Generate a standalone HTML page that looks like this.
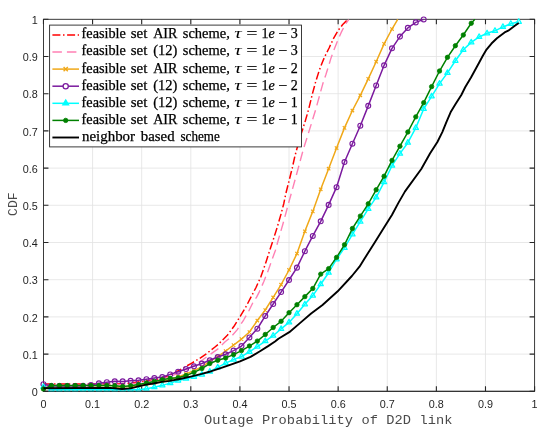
<!DOCTYPE html>
<html><head><meta charset="utf-8"><title>CDF of outage probability</title>
<style>html,body{margin:0;padding:0;background:#fff}body{width:550px;height:433px;overflow:hidden}svg{display:block}.tk{font-family:"Liberation Sans",sans-serif;font-size:10.8px;fill:#1f1f1f}.lg{font-family:"Liberation Serif",serif;font-size:14px;fill:#000;stroke:#000;stroke-width:0.25px}.ax{font-family:"Liberation Mono",monospace;font-size:13.7px;fill:#4a4a4a}</style></head><body>
<svg width="550" height="433" viewBox="0 0 550 433">
<rect width="550" height="433" fill="#fff"/>
<path d="M92.57 19.3 V391.3 M43.45 354.10 H534.6 M141.68 19.3 V391.3 M43.45 316.90 H534.6 M190.80 19.3 V391.3 M43.45 279.70 H534.6 M239.91 19.3 V391.3 M43.45 242.50 H534.6 M289.03 19.3 V391.3 M43.45 205.30 H534.6 M338.14 19.3 V391.3 M43.45 168.10 H534.6 M387.25 19.3 V391.3 M43.45 130.90 H534.6 M436.37 19.3 V391.3 M43.45 93.70 H534.6 M485.49 19.3 V391.3 M43.45 56.50 H534.6" stroke="#e2e2e2" stroke-width="0.8" fill="none"/>
<path d="M43.45 391.3 v-5 M43.45 19.3 v5 M43.45 391.30 h5 M534.6 391.30 h-5 M92.57 391.3 v-5 M92.57 19.3 v5 M43.45 354.10 h5 M534.6 354.10 h-5 M141.68 391.3 v-5 M141.68 19.3 v5 M43.45 316.90 h5 M534.6 316.90 h-5 M190.80 391.3 v-5 M190.80 19.3 v5 M43.45 279.70 h5 M534.6 279.70 h-5 M239.91 391.3 v-5 M239.91 19.3 v5 M43.45 242.50 h5 M534.6 242.50 h-5 M289.03 391.3 v-5 M289.03 19.3 v5 M43.45 205.30 h5 M534.6 205.30 h-5 M338.14 391.3 v-5 M338.14 19.3 v5 M43.45 168.10 h5 M534.6 168.10 h-5 M387.25 391.3 v-5 M387.25 19.3 v5 M43.45 130.90 h5 M534.6 130.90 h-5 M436.37 391.3 v-5 M436.37 19.3 v5 M43.45 93.70 h5 M534.6 93.70 h-5 M485.49 391.3 v-5 M485.49 19.3 v5 M43.45 56.50 h5 M534.6 56.50 h-5 M534.60 391.3 v-5 M534.60 19.3 v5 M43.45 19.30 h5 M534.6 19.30 h-5" stroke="#262626" stroke-width="1.1" fill="none"/>
<rect x="43.45" y="19.3" width="491.15" height="372.00" fill="none" stroke="#262626" stroke-width="0.9"/>
<text class="tk" x="43.45" y="408.0" text-anchor="middle">0</text>
<text class="tk" x="37.8" y="395.90" text-anchor="end">0</text>
<text class="tk" x="92.57" y="408.0" text-anchor="middle">0.1</text>
<text class="tk" x="37.8" y="358.70" text-anchor="end">0.1</text>
<text class="tk" x="141.68" y="408.0" text-anchor="middle">0.2</text>
<text class="tk" x="37.8" y="321.50" text-anchor="end">0.2</text>
<text class="tk" x="190.80" y="408.0" text-anchor="middle">0.3</text>
<text class="tk" x="37.8" y="284.30" text-anchor="end">0.3</text>
<text class="tk" x="239.91" y="408.0" text-anchor="middle">0.4</text>
<text class="tk" x="37.8" y="247.10" text-anchor="end">0.4</text>
<text class="tk" x="289.03" y="408.0" text-anchor="middle">0.5</text>
<text class="tk" x="37.8" y="209.90" text-anchor="end">0.5</text>
<text class="tk" x="338.14" y="408.0" text-anchor="middle">0.6</text>
<text class="tk" x="37.8" y="172.70" text-anchor="end">0.6</text>
<text class="tk" x="387.25" y="408.0" text-anchor="middle">0.7</text>
<text class="tk" x="37.8" y="135.50" text-anchor="end">0.7</text>
<text class="tk" x="436.37" y="408.0" text-anchor="middle">0.8</text>
<text class="tk" x="37.8" y="98.30" text-anchor="end">0.8</text>
<text class="tk" x="485.49" y="408.0" text-anchor="middle">0.9</text>
<text class="tk" x="37.8" y="61.10" text-anchor="end">0.9</text>
<text class="tk" x="534.60" y="408.0" text-anchor="middle">1</text>
<text class="tk" x="37.8" y="23.90" text-anchor="end">1</text>
<text class="ax" x="204" y="423.6" textLength="248.5" lengthAdjust="spacing">Outage Probability of D2D link</text>
<text class="ax" transform="translate(16.8 215.9) rotate(-90)" style="font-size:13px" textLength="23.5" lengthAdjust="spacing">CDF</text>
<defs><clipPath id="c"><rect x="42.95" y="18.80" width="492.15" height="373.00"/></clipPath></defs>
<g fill="none" stroke-linejoin="round">
<path clip-path="url(#c)" d="M43.45 384.05 L92.57 384.05 L116.53 384.05 L127.44 383.49 L142.76 381.40 L150.32 380.29 L158.04 379.02 L166.73 376.42 L176.55 371.70 L184.21 367.42 L191.83 363.03 L199.44 358.60 L207.15 353.21 L214.71 347.22 L218.54 344.13 L221.34 341.23 L227.34 335.31 L233.82 326.53 L240.35 316.23 L245.85 306.93 L250.96 297.18 L256.12 287.25 L261.03 276.35 L265.94 262.18 L269.82 250.16 L273.41 239.19 L277.24 227.21 L281.02 214.12 L283.87 203.22 L285.64 194.40 L288.93 181.31 L292.22 168.21 L294.87 156.23 L296.83 149.02 L301.75 132.13 L305.53 120.15 L308.67 109.25 L312.40 93.85 L315.65 81.87 L319.43 69.85 L322.37 62.27 L324.73 56.69 L329.10 47.98 L333.42 38.68 L338.43 29.98 L342.71 24.58 L347.62 19.71" stroke="#ff0000" stroke-width="1.5" stroke-dasharray="8 2.6 1.5 2.6"/>
<path clip-path="url(#c)" d="M43.45 386.84 L92.57 386.09 L141.68 383.12 L166.24 377.91 L184.21 370.84 L191.83 366.75 L202.73 359.72 L210.34 354.32 L218.05 348.82 L225.13 341.82 L230.53 337.43 L237.11 329.85 L243.64 320.02 L249.14 310.24 L253.42 301.54 L256.61 297.15 L259.41 291.57 L263.73 281.75 L268.10 270.85 L271.93 259.98 L275.47 250.16 L278.81 238.11 L282.64 225.02 L285.93 213.00 L288.53 203.22 L291.63 192.21 L294.92 180.23 L298.21 168.21 L301.45 156.23 L303.91 147.42 L307.74 135.44 L312.11 121.27 L315.79 109.25 L319.43 96.04 L322.72 84.07 L326.01 74.28 L329.74 62.27 L330.72 58.88 L333.42 51.29 L337.31 41.51 L341.09 32.69 L344.92 25.10 L348.70 19.71" stroke="#ff80b4" stroke-width="1.4" stroke-dasharray="9.5 5"/>
<path clip-path="url(#c)" d="M43.45 388.32 L51.37 388.21 L59.29 388.09 L67.22 387.98 L75.14 387.86 L83.06 387.74 L90.98 387.63 L98.90 387.51 L106.82 387.39 L114.75 387.21 L122.67 386.84 L130.59 386.46 L138.51 385.72 L146.43 384.60 L154.35 383.12 L162.28 381.26 L170.20 379.40 L178.12 376.98 L186.04 373.93 L193.96 370.65 L201.89 366.82 L209.81 361.39 L217.73 356.52 L225.65 351.01 L233.57 345.13 L241.49 339.15 L249.42 332.04 L257.34 320.55 L265.26 310.02 L273.18 297.41 L281.10 284.72 L289.03 269.99 L296.95 253.59 L304.87 231.34 L312.79 211.40 L320.71 189.30 L328.63 168.70 L336.56 148.01 L344.48 127.89 L352.40 110.51 L360.32 95.30 L368.24 78.89 L376.16 61.71 L384.09 43.89 L392.01 29.01 L397.72 19.30" stroke="#f0a818" stroke-width="1.5"/>
<path d="M41.75 386.62 l3.4 3.4 M41.75 390.02 l3.4 -3.4 M49.67 386.51 l3.4 3.4 M49.67 389.91 l3.4 -3.4 M57.59 386.39 l3.4 3.4 M57.59 389.79 l3.4 -3.4 M65.52 386.28 l3.4 3.4 M65.52 389.68 l3.4 -3.4 M73.44 386.16 l3.4 3.4 M73.44 389.56 l3.4 -3.4 M81.36 386.04 l3.4 3.4 M81.36 389.44 l3.4 -3.4 M89.28 385.93 l3.4 3.4 M89.28 389.33 l3.4 -3.4 M97.20 385.81 l3.4 3.4 M97.20 389.21 l3.4 -3.4 M105.12 385.69 l3.4 3.4 M105.12 389.09 l3.4 -3.4 M113.05 385.51 l3.4 3.4 M113.05 388.91 l3.4 -3.4 M120.97 385.14 l3.4 3.4 M120.97 388.54 l3.4 -3.4 M128.89 384.76 l3.4 3.4 M128.89 388.16 l3.4 -3.4 M136.81 384.02 l3.4 3.4 M136.81 387.42 l3.4 -3.4 M144.73 382.90 l3.4 3.4 M144.73 386.30 l3.4 -3.4 M152.65 381.42 l3.4 3.4 M152.65 384.82 l3.4 -3.4 M160.58 379.56 l3.4 3.4 M160.58 382.96 l3.4 -3.4 M168.50 377.70 l3.4 3.4 M168.50 381.10 l3.4 -3.4 M176.42 375.28 l3.4 3.4 M176.42 378.68 l3.4 -3.4 M184.34 372.23 l3.4 3.4 M184.34 375.63 l3.4 -3.4 M192.26 368.95 l3.4 3.4 M192.26 372.35 l3.4 -3.4 M200.19 365.12 l3.4 3.4 M200.19 368.52 l3.4 -3.4 M208.11 359.69 l3.4 3.4 M208.11 363.09 l3.4 -3.4 M216.03 354.82 l3.4 3.4 M216.03 358.22 l3.4 -3.4 M223.95 349.31 l3.4 3.4 M223.95 352.71 l3.4 -3.4 M231.87 343.43 l3.4 3.4 M231.87 346.83 l3.4 -3.4 M239.79 337.45 l3.4 3.4 M239.79 340.85 l3.4 -3.4 M247.72 330.34 l3.4 3.4 M247.72 333.74 l3.4 -3.4 M255.64 318.85 l3.4 3.4 M255.64 322.25 l3.4 -3.4 M263.56 308.32 l3.4 3.4 M263.56 311.72 l3.4 -3.4 M271.48 295.71 l3.4 3.4 M271.48 299.11 l3.4 -3.4 M279.40 283.02 l3.4 3.4 M279.40 286.42 l3.4 -3.4 M287.33 268.29 l3.4 3.4 M287.33 271.69 l3.4 -3.4 M295.25 251.89 l3.4 3.4 M295.25 255.29 l3.4 -3.4 M303.17 229.64 l3.4 3.4 M303.17 233.04 l3.4 -3.4 M311.09 209.70 l3.4 3.4 M311.09 213.10 l3.4 -3.4 M319.01 187.60 l3.4 3.4 M319.01 191.00 l3.4 -3.4 M326.93 167.00 l3.4 3.4 M326.93 170.40 l3.4 -3.4 M334.86 146.31 l3.4 3.4 M334.86 149.71 l3.4 -3.4 M342.78 126.19 l3.4 3.4 M342.78 129.59 l3.4 -3.4 M350.70 108.81 l3.4 3.4 M350.70 112.21 l3.4 -3.4 M358.62 93.60 l3.4 3.4 M358.62 97.00 l3.4 -3.4 M366.54 77.19 l3.4 3.4 M366.54 80.59 l3.4 -3.4 M374.46 60.01 l3.4 3.4 M374.46 63.41 l3.4 -3.4 M382.39 42.19 l3.4 3.4 M382.39 45.59 l3.4 -3.4 M390.31 27.31 l3.4 3.4 M390.31 30.71 l3.4 -3.4" stroke="#f0a818" stroke-width="1.2"/>
<path clip-path="url(#c)" d="M43.45 384.23 L51.37 385.98 L59.29 385.98 L67.22 385.98 L75.14 385.98 L83.06 385.79 L90.98 384.98 L98.90 383.30 L106.82 382.19 L114.75 381.37 L122.67 381.40 L130.59 380.81 L138.51 380.29 L146.43 379.21 L154.35 378.09 L162.28 377.02 L170.20 374.41 L178.12 371.70 L186.04 369.02 L193.96 366.30 L201.89 363.51 L209.81 360.31 L217.73 357.00 L225.65 354.25 L233.57 350.60 L241.49 346.03 L249.42 337.43 L257.34 328.73 L265.26 315.97 L273.18 304.03 L281.10 292.09 L289.03 280.00 L296.95 267.65 L304.87 251.20 L312.79 235.95 L320.71 221.30 L328.63 204.89 L336.56 187.18 L344.48 162.00 L352.40 143.70 L360.32 125.69 L368.24 105.86 L376.16 85.40 L384.09 65.32 L392.01 48.32 L399.93 36.60 L407.85 27.89 L415.77 22.39 L423.70 19.41" stroke="#7b1a9e" stroke-width="1.5"/>
<g stroke="#7b1a9e" stroke-width="1.15" fill="none"><circle cx="43.45" cy="384.23" r="2.45"/><circle cx="51.37" cy="385.98" r="2.45"/><circle cx="59.29" cy="385.98" r="2.45"/><circle cx="67.22" cy="385.98" r="2.45"/><circle cx="75.14" cy="385.98" r="2.45"/><circle cx="83.06" cy="385.79" r="2.45"/><circle cx="90.98" cy="384.98" r="2.45"/><circle cx="98.90" cy="383.30" r="2.45"/><circle cx="106.82" cy="382.19" r="2.45"/><circle cx="114.75" cy="381.37" r="2.45"/><circle cx="122.67" cy="381.40" r="2.45"/><circle cx="130.59" cy="380.81" r="2.45"/><circle cx="138.51" cy="380.29" r="2.45"/><circle cx="146.43" cy="379.21" r="2.45"/><circle cx="154.35" cy="378.09" r="2.45"/><circle cx="162.28" cy="377.02" r="2.45"/><circle cx="170.20" cy="374.41" r="2.45"/><circle cx="178.12" cy="371.70" r="2.45"/><circle cx="186.04" cy="369.02" r="2.45"/><circle cx="193.96" cy="366.30" r="2.45"/><circle cx="201.89" cy="363.51" r="2.45"/><circle cx="209.81" cy="360.31" r="2.45"/><circle cx="217.73" cy="357.00" r="2.45"/><circle cx="225.65" cy="354.25" r="2.45"/><circle cx="233.57" cy="350.60" r="2.45"/><circle cx="241.49" cy="346.03" r="2.45"/><circle cx="249.42" cy="337.43" r="2.45"/><circle cx="257.34" cy="328.73" r="2.45"/><circle cx="265.26" cy="315.97" r="2.45"/><circle cx="273.18" cy="304.03" r="2.45"/><circle cx="281.10" cy="292.09" r="2.45"/><circle cx="289.03" cy="280.00" r="2.45"/><circle cx="296.95" cy="267.65" r="2.45"/><circle cx="304.87" cy="251.20" r="2.45"/><circle cx="312.79" cy="235.95" r="2.45"/><circle cx="320.71" cy="221.30" r="2.45"/><circle cx="328.63" cy="204.89" r="2.45"/><circle cx="336.56" cy="187.18" r="2.45"/><circle cx="344.48" cy="162.00" r="2.45"/><circle cx="352.40" cy="143.70" r="2.45"/><circle cx="360.32" cy="125.69" r="2.45"/><circle cx="368.24" cy="105.86" r="2.45"/><circle cx="376.16" cy="85.40" r="2.45"/><circle cx="384.09" cy="65.32" r="2.45"/><circle cx="392.01" cy="48.32" r="2.45"/><circle cx="399.93" cy="36.60" r="2.45"/><circle cx="407.85" cy="27.89" r="2.45"/><circle cx="415.77" cy="22.39" r="2.45"/><circle cx="423.70" cy="19.41" r="2.45"/></g>
<path clip-path="url(#c)" d="M43.45 386.84 L51.37 389.81 L59.29 389.81 L67.22 389.81 L75.14 389.81 L83.06 389.81 L90.98 389.81 L98.90 389.81 L106.82 389.81 L114.75 389.81 L122.67 389.81 L130.59 389.81 L138.51 389.81 L146.43 388.70 L154.35 387.21 L162.28 385.35 L170.20 383.12 L178.12 380.51 L186.04 378.65 L193.96 376.79 L201.89 374.56 L209.81 371.58 L217.73 367.42 L225.65 363.18 L233.57 359.61 L241.49 356.52 L249.42 351.91 L257.34 346.51 L265.26 341.08 L273.18 335.72 L281.10 328.92 L289.03 322.41 L296.95 313.70 L304.87 304.25 L312.79 295.58 L320.71 284.20 L328.63 272.71 L336.56 259.24 L344.48 247.89 L352.40 234.32 L360.32 221.71 L368.24 208.91 L376.16 197.41 L384.09 182.20 L392.01 165.61 L399.93 153.59 L407.85 142.69 L415.77 127.85 L423.70 108.95 L431.62 96.30 L439.54 83.62 L447.46 72.91 L455.38 60.78 L463.30 49.80 L471.23 42.36 L479.15 36.97 L487.07 33.25 L494.99 30.83 L502.91 26.93 L510.83 23.76 L518.76 21.79" stroke="#00ffff" stroke-width="1.5"/>
<path d="M43.45 383.79 l2.64 4.57 h-5.28 Z M51.37 386.76 l2.64 4.57 h-5.28 Z M59.29 386.76 l2.64 4.57 h-5.28 Z M67.22 386.76 l2.64 4.57 h-5.28 Z M75.14 386.76 l2.64 4.57 h-5.28 Z M83.06 386.76 l2.64 4.57 h-5.28 Z M90.98 386.76 l2.64 4.57 h-5.28 Z M98.90 386.76 l2.64 4.57 h-5.28 Z M106.82 386.76 l2.64 4.57 h-5.28 Z M114.75 386.76 l2.64 4.57 h-5.28 Z M122.67 386.76 l2.64 4.57 h-5.28 Z M130.59 386.76 l2.64 4.57 h-5.28 Z M138.51 386.76 l2.64 4.57 h-5.28 Z M146.43 385.65 l2.64 4.57 h-5.28 Z M154.35 384.16 l2.64 4.57 h-5.28 Z M162.28 382.30 l2.64 4.57 h-5.28 Z M170.20 380.07 l2.64 4.57 h-5.28 Z M178.12 377.46 l2.64 4.57 h-5.28 Z M186.04 375.60 l2.64 4.57 h-5.28 Z M193.96 373.74 l2.64 4.57 h-5.28 Z M201.89 371.51 l2.64 4.57 h-5.28 Z M209.81 368.53 l2.64 4.57 h-5.28 Z M217.73 364.37 l2.64 4.57 h-5.28 Z M225.65 360.13 l2.64 4.57 h-5.28 Z M233.57 356.56 l2.64 4.57 h-5.28 Z M241.49 353.47 l2.64 4.57 h-5.28 Z M249.42 348.86 l2.64 4.57 h-5.28 Z M257.34 343.46 l2.64 4.57 h-5.28 Z M265.26 338.03 l2.64 4.57 h-5.28 Z M273.18 332.67 l2.64 4.57 h-5.28 Z M281.10 325.87 l2.64 4.57 h-5.28 Z M289.03 319.36 l2.64 4.57 h-5.28 Z M296.95 310.65 l2.64 4.57 h-5.28 Z M304.87 301.20 l2.64 4.57 h-5.28 Z M312.79 292.53 l2.64 4.57 h-5.28 Z M320.71 281.15 l2.64 4.57 h-5.28 Z M328.63 269.66 l2.64 4.57 h-5.28 Z M336.56 256.19 l2.64 4.57 h-5.28 Z M344.48 244.84 l2.64 4.57 h-5.28 Z M352.40 231.27 l2.64 4.57 h-5.28 Z M360.32 218.66 l2.64 4.57 h-5.28 Z M368.24 205.86 l2.64 4.57 h-5.28 Z M376.16 194.36 l2.64 4.57 h-5.28 Z M384.09 179.15 l2.64 4.57 h-5.28 Z M392.01 162.56 l2.64 4.57 h-5.28 Z M399.93 150.54 l2.64 4.57 h-5.28 Z M407.85 139.64 l2.64 4.57 h-5.28 Z M415.77 124.80 l2.64 4.57 h-5.28 Z M423.70 105.90 l2.64 4.57 h-5.28 Z M431.62 93.25 l2.64 4.57 h-5.28 Z M439.54 80.57 l2.64 4.57 h-5.28 Z M447.46 69.86 l2.64 4.57 h-5.28 Z M455.38 57.73 l2.64 4.57 h-5.28 Z M463.30 46.75 l2.64 4.57 h-5.28 Z M471.23 39.31 l2.64 4.57 h-5.28 Z M479.15 33.92 l2.64 4.57 h-5.28 Z M487.07 30.20 l2.64 4.57 h-5.28 Z M494.99 27.78 l2.64 4.57 h-5.28 Z M502.91 23.88 l2.64 4.57 h-5.28 Z M510.83 20.71 l2.64 4.57 h-5.28 Z M518.76 18.74 l2.64 4.57 h-5.28 Z" stroke="#00ffff" stroke-width="1.25" fill="none"/>
<path clip-path="url(#c)" d="M43.45 389.07 L51.37 385.53 L59.29 385.53 L67.22 385.53 L75.14 385.53 L83.06 385.53 L90.98 385.53 L98.90 385.53 L106.82 385.53 L114.75 385.72 L122.67 386.46 L130.59 385.72 L138.51 384.60 L146.43 383.00 L154.35 381.40 L162.28 379.69 L170.20 378.32 L178.12 377.72 L186.04 375.49 L193.96 372.33 L201.89 368.50 L209.81 363.51 L217.73 360.31 L225.65 357.93 L233.57 354.62 L241.49 350.60 L249.42 346.03 L257.34 341.08 L265.26 334.46 L273.18 327.50 L281.10 321.29 L289.03 312.70 L296.95 304.70 L304.87 296.63 L312.79 288.52 L320.71 274.12 L328.63 268.65 L336.56 257.38 L344.48 244.81 L352.40 228.51 L360.32 216.09 L368.24 203.81 L376.16 189.79 L384.09 176.21 L392.01 160.40 L399.93 146.19 L407.85 132.02 L415.77 116.84 L423.70 102.67 L431.62 86.63 L439.54 71.01 L447.46 57.32 L455.38 45.71 L463.30 35.00 L471.23 23.28 L474.88 19.30" stroke="#008000" stroke-width="1.5"/>
<g fill="#008000" stroke="#008000" stroke-width="0.8"><circle cx="43.45" cy="389.07" r="2.2"/><circle cx="51.37" cy="385.53" r="2.2"/><circle cx="59.29" cy="385.53" r="2.2"/><circle cx="67.22" cy="385.53" r="2.2"/><circle cx="75.14" cy="385.53" r="2.2"/><circle cx="83.06" cy="385.53" r="2.2"/><circle cx="90.98" cy="385.53" r="2.2"/><circle cx="98.90" cy="385.53" r="2.2"/><circle cx="106.82" cy="385.53" r="2.2"/><circle cx="114.75" cy="385.72" r="2.2"/><circle cx="122.67" cy="386.46" r="2.2"/><circle cx="130.59" cy="385.72" r="2.2"/><circle cx="138.51" cy="384.60" r="2.2"/><circle cx="146.43" cy="383.00" r="2.2"/><circle cx="154.35" cy="381.40" r="2.2"/><circle cx="162.28" cy="379.69" r="2.2"/><circle cx="170.20" cy="378.32" r="2.2"/><circle cx="178.12" cy="377.72" r="2.2"/><circle cx="186.04" cy="375.49" r="2.2"/><circle cx="193.96" cy="372.33" r="2.2"/><circle cx="201.89" cy="368.50" r="2.2"/><circle cx="209.81" cy="363.51" r="2.2"/><circle cx="217.73" cy="360.31" r="2.2"/><circle cx="225.65" cy="357.93" r="2.2"/><circle cx="233.57" cy="354.62" r="2.2"/><circle cx="241.49" cy="350.60" r="2.2"/><circle cx="249.42" cy="346.03" r="2.2"/><circle cx="257.34" cy="341.08" r="2.2"/><circle cx="265.26" cy="334.46" r="2.2"/><circle cx="273.18" cy="327.50" r="2.2"/><circle cx="281.10" cy="321.29" r="2.2"/><circle cx="289.03" cy="312.70" r="2.2"/><circle cx="296.95" cy="304.70" r="2.2"/><circle cx="304.87" cy="296.63" r="2.2"/><circle cx="312.79" cy="288.52" r="2.2"/><circle cx="320.71" cy="274.12" r="2.2"/><circle cx="328.63" cy="268.65" r="2.2"/><circle cx="336.56" cy="257.38" r="2.2"/><circle cx="344.48" cy="244.81" r="2.2"/><circle cx="352.40" cy="228.51" r="2.2"/><circle cx="360.32" cy="216.09" r="2.2"/><circle cx="368.24" cy="203.81" r="2.2"/><circle cx="376.16" cy="189.79" r="2.2"/><circle cx="384.09" cy="176.21" r="2.2"/><circle cx="392.01" cy="160.40" r="2.2"/><circle cx="399.93" cy="146.19" r="2.2"/><circle cx="407.85" cy="132.02" r="2.2"/><circle cx="415.77" cy="116.84" r="2.2"/><circle cx="423.70" cy="102.67" r="2.2"/><circle cx="431.62" cy="86.63" r="2.2"/><circle cx="439.54" cy="71.01" r="2.2"/><circle cx="447.46" cy="57.32" r="2.2"/><circle cx="455.38" cy="45.71" r="2.2"/><circle cx="463.30" cy="35.00" r="2.2"/><circle cx="471.23" cy="23.28" r="2.2"/></g>
<path clip-path="url(#c)" d="M43.45 388.32 L110.05 387.91 L122.03 388.99 L130.73 388.40 L138.44 386.32 L146.05 384.60 L153.66 383.49 L161.82 381.89 L170.02 380.88 L180.92 378.80 L190.75 376.61 L201.65 373.93 L211.42 371.21 L221.34 367.90 L230.04 364.81 L240.01 361.32 L250.52 356.93 L259.56 351.53 L267.71 346.40 L275.03 341.53 L278.42 338.70 L289.32 332.19 L300.22 322.89 L311.13 313.59 L322.52 305.00 L337.70 291.31 L351.89 275.98 L359.51 266.68 L364.12 259.24 L374.09 243.50 L385.00 226.09 L391.92 215.01 L398.40 202.88 L405.03 191.39 L421.29 168.99 L429.99 153.59 L437.40 141.99 L442.31 132.09 L446.59 121.56 L451.01 111.41 L455.72 103.74 L461.32 95.00 L465.30 87.00 L471.00 77.48 L479.20 62.45 L482.69 55.94 L486.07 50.18 L491.48 43.55 L496.93 38.27 L504.59 32.39 L508.23 30.65 L511.22 28.49 L515.49 25.29 L518.78 22.91" stroke="#000" stroke-width="1.9"/>
</g>
<path d="M43.45 391.3 H534.6" stroke="#262626" stroke-width="0.9" fill="none"/>
<rect x="49.6" y="25.1" width="251.90" height="121.80" fill="#fff" stroke="#262626" stroke-width="0.9"/>
<g fill="none">
<path d="M52.4 34.9 H79.0" stroke="#ff0000" stroke-width="1.5" stroke-dasharray="8 2.6 1.5 2.6"/>
<path d="M52.4 52.0 H79.0" stroke="#ff80b4" stroke-width="1.4" stroke-dasharray="9.5 5"/>
<path d="M52.4 69.1 H79.0" stroke="#f0a818" stroke-width="1.5"/>
<path d="M63.6 67.0 l4.2 4.2 M63.6 71.19999999999999 l4.2 -4.2" stroke="#f0a818" stroke-width="1.4"/>
<path d="M52.4 86.2 H79.0" stroke="#7b1a9e" stroke-width="1.5"/>
<circle cx="65.7" cy="86.2" r="2.6" stroke="#7b1a9e" stroke-width="1.3" fill="#fff"/>
<path d="M52.4 103.30000000000001 H79.0" stroke="#00ffff" stroke-width="1.5"/>
<path d="M65.7 100.25000000000001 l2.64 4.57 h-5.28 Z" stroke="#00ffff" stroke-width="1.6" fill="#00ffff"/>
<path d="M52.4 120.4 H79.0" stroke="#008000" stroke-width="1.5"/>
<circle cx="65.7" cy="120.4" r="2.2" fill="#008000" stroke="#008000" stroke-width="0.8"/>
<path d="M52.4 137.5 H79.0" stroke="#000" stroke-width="1.9"/>
</g>
<text class="lg" y="38.30" xml:space="preserve"><tspan x="81.6" textLength="44.3" lengthAdjust="spacingAndGlyphs">feasible</tspan> <tspan x="130.7" textLength="16.6" lengthAdjust="spacingAndGlyphs">set</tspan> <tspan x="153.2" textLength="24.2" lengthAdjust="spacingAndGlyphs">AIR</tspan> <tspan x="182.8" textLength="47.0" lengthAdjust="spacingAndGlyphs">scheme,</tspan> <tspan x="234.2" font-style="italic" font-size="15.5" stroke="none" textLength="7.4" lengthAdjust="spacingAndGlyphs">τ</tspan> <tspan x="246.6" textLength="10.8" lengthAdjust="spacingAndGlyphs">=</tspan> <tspan x="261.6">1<tspan font-style="italic">e</tspan></tspan> <tspan x="278.4" textLength="9.0" lengthAdjust="spacingAndGlyphs">−</tspan> <tspan x="290.8">3</tspan></text>
<text class="lg" y="55.40" xml:space="preserve"><tspan x="81.6" textLength="44.3" lengthAdjust="spacingAndGlyphs">feasible</tspan> <tspan x="130.7" textLength="16.6" lengthAdjust="spacingAndGlyphs">set</tspan> <tspan x="153.2" textLength="24.2" lengthAdjust="spacingAndGlyphs">(12)</tspan> <tspan x="182.8" textLength="47.0" lengthAdjust="spacingAndGlyphs">scheme,</tspan> <tspan x="234.2" font-style="italic" font-size="15.5" stroke="none" textLength="7.4" lengthAdjust="spacingAndGlyphs">τ</tspan> <tspan x="246.6" textLength="10.8" lengthAdjust="spacingAndGlyphs">=</tspan> <tspan x="261.6">1<tspan font-style="italic">e</tspan></tspan> <tspan x="278.4" textLength="9.0" lengthAdjust="spacingAndGlyphs">−</tspan> <tspan x="290.8">3</tspan></text>
<text class="lg" y="72.50" xml:space="preserve"><tspan x="81.6" textLength="44.3" lengthAdjust="spacingAndGlyphs">feasible</tspan> <tspan x="130.7" textLength="16.6" lengthAdjust="spacingAndGlyphs">set</tspan> <tspan x="153.2" textLength="24.2" lengthAdjust="spacingAndGlyphs">AIR</tspan> <tspan x="182.8" textLength="47.0" lengthAdjust="spacingAndGlyphs">scheme,</tspan> <tspan x="234.2" font-style="italic" font-size="15.5" stroke="none" textLength="7.4" lengthAdjust="spacingAndGlyphs">τ</tspan> <tspan x="246.6" textLength="10.8" lengthAdjust="spacingAndGlyphs">=</tspan> <tspan x="261.6">1<tspan font-style="italic">e</tspan></tspan> <tspan x="278.4" textLength="9.0" lengthAdjust="spacingAndGlyphs">−</tspan> <tspan x="290.8">2</tspan></text>
<text class="lg" y="89.60" xml:space="preserve"><tspan x="81.6" textLength="44.3" lengthAdjust="spacingAndGlyphs">feasible</tspan> <tspan x="130.7" textLength="16.6" lengthAdjust="spacingAndGlyphs">set</tspan> <tspan x="153.2" textLength="24.2" lengthAdjust="spacingAndGlyphs">(12)</tspan> <tspan x="182.8" textLength="47.0" lengthAdjust="spacingAndGlyphs">scheme,</tspan> <tspan x="234.2" font-style="italic" font-size="15.5" stroke="none" textLength="7.4" lengthAdjust="spacingAndGlyphs">τ</tspan> <tspan x="246.6" textLength="10.8" lengthAdjust="spacingAndGlyphs">=</tspan> <tspan x="261.6">1<tspan font-style="italic">e</tspan></tspan> <tspan x="278.4" textLength="9.0" lengthAdjust="spacingAndGlyphs">−</tspan> <tspan x="290.8">2</tspan></text>
<text class="lg" y="106.70" xml:space="preserve"><tspan x="81.6" textLength="44.3" lengthAdjust="spacingAndGlyphs">feasible</tspan> <tspan x="130.7" textLength="16.6" lengthAdjust="spacingAndGlyphs">set</tspan> <tspan x="153.2" textLength="24.2" lengthAdjust="spacingAndGlyphs">(12)</tspan> <tspan x="182.8" textLength="47.0" lengthAdjust="spacingAndGlyphs">scheme,</tspan> <tspan x="234.2" font-style="italic" font-size="15.5" stroke="none" textLength="7.4" lengthAdjust="spacingAndGlyphs">τ</tspan> <tspan x="246.6" textLength="10.8" lengthAdjust="spacingAndGlyphs">=</tspan> <tspan x="261.6">1<tspan font-style="italic">e</tspan></tspan> <tspan x="278.4" textLength="9.0" lengthAdjust="spacingAndGlyphs">−</tspan> <tspan x="290.8">1</tspan></text>
<text class="lg" y="123.80" xml:space="preserve"><tspan x="81.6" textLength="44.3" lengthAdjust="spacingAndGlyphs">feasible</tspan> <tspan x="130.7" textLength="16.6" lengthAdjust="spacingAndGlyphs">set</tspan> <tspan x="153.2" textLength="24.2" lengthAdjust="spacingAndGlyphs">AIR</tspan> <tspan x="182.8" textLength="47.0" lengthAdjust="spacingAndGlyphs">scheme,</tspan> <tspan x="234.2" font-style="italic" font-size="15.5" stroke="none" textLength="7.4" lengthAdjust="spacingAndGlyphs">τ</tspan> <tspan x="246.6" textLength="10.8" lengthAdjust="spacingAndGlyphs">=</tspan> <tspan x="261.6">1<tspan font-style="italic">e</tspan></tspan> <tspan x="278.4" textLength="9.0" lengthAdjust="spacingAndGlyphs">−</tspan> <tspan x="290.8">1</tspan></text>
<text class="lg" y="140.90" xml:space="preserve"><tspan x="82.0" textLength="53.0" lengthAdjust="spacingAndGlyphs">neighbor</tspan> <tspan x="140.8" textLength="33.8" lengthAdjust="spacingAndGlyphs">based</tspan> <tspan x="180.5" textLength="39.2" lengthAdjust="spacingAndGlyphs">scheme</tspan></text>
</svg></body></html>
